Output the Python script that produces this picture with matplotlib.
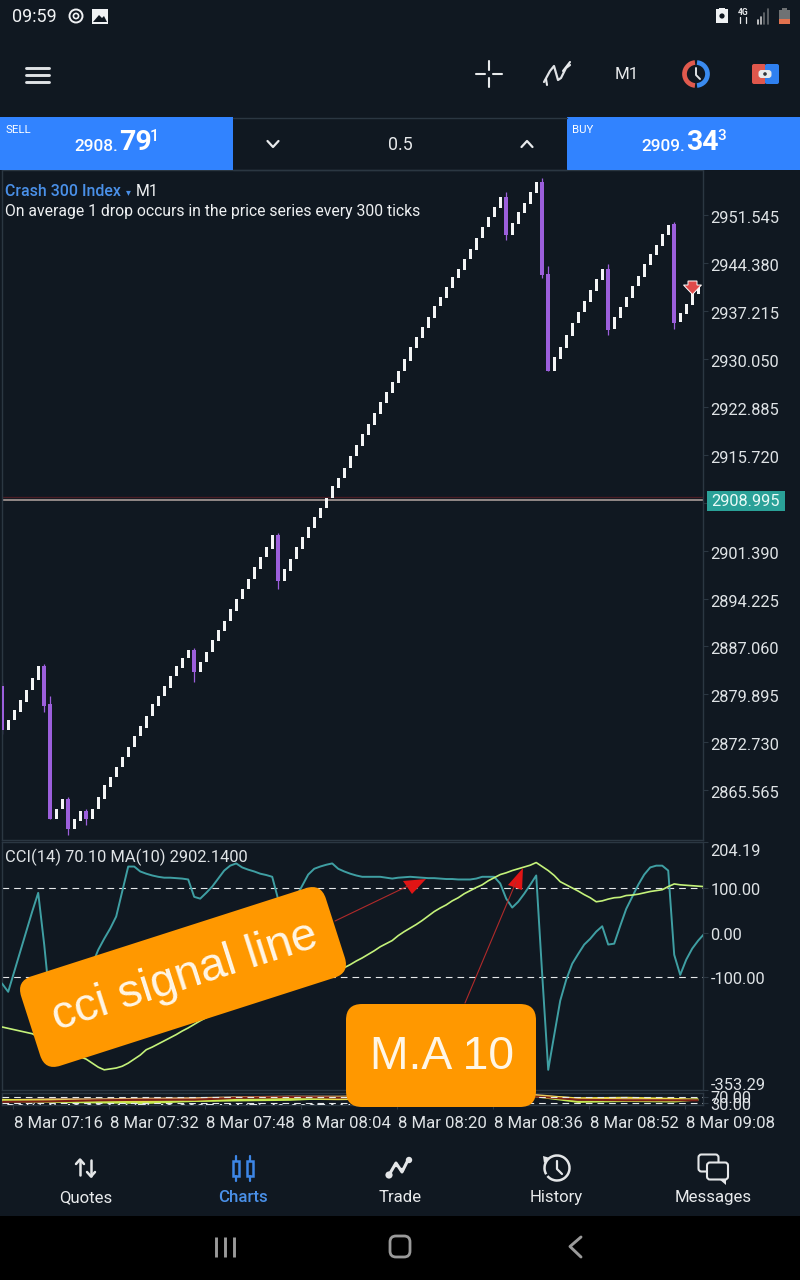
import numpy as np
import matplotlib
matplotlib.use("Agg")
import matplotlib.pyplot as plt
from matplotlib.patches import Rectangle, FancyBboxPatch, Polygon, Circle, Arc
from matplotlib.transforms import Affine2D, ScaledTranslation

plt.rcParams['font.family'] = ['Roboto', 'DejaVu Sans']

# ---------- data ----------
body_high = [
 2881.1,2876.1,2877.5,2879.0,2880.6,2882.3,2884.1,2884.1,2878.4,2862.8,
 2864.2,2864.3,2861.2,2862.5,2862.5,2862.8,2864.5,2866.3,2867.6,2869.1,
 2870.6,2872.1,2873.7,2875.1,2876.7,2878.4,2879.7,2881.1,2882.7,2884.1,
 2885.3,2886.6,2886.6,2884.8,2886.3,2888.0,2889.5,2890.9,2892.6,2894.2,
 2895.7,2897.2,2898.9,2900.5,2901.9,2903.7,2903.7,2898.6,2900.2,2901.9,
 2903.4,2904.9,2906.4,2907.7,2909.3,2911.0,2912.3,2913.8,2915.6,2917.1,
 2918.8,2920.3,2921.9,2923.6,2925.1,2926.6,2928.3,2930.0,2931.8,2933.3,
 2934.8,2936.3,2937.9,2939.3,2940.8,2942.3,2943.5,2945.0,2946.4,2948.1,
 2949.7,2951.2,2952.7,2954.2,2954.2,2950.3,2952.0,2953.3,2955.0,2956.5,
 2956.5,2942.7,2930.3,2931.8,2933.6,2935.4,2937.0,2938.7,2940.3,2942.0,
 2943.5,2943.5,2936.3,2937.8,2939.3,2940.9,2942.4,2944.2,2945.7,2947.0,
 2948.7,2950.0,2950.2,2936.9,2938.2,2939.9,2941.1]
body_low = [
 2874.5,2874.5,2876.0,2877.3,2878.8,2880.5,2882.1,2878.2,2861.2,2861.2,
 2862.7,2859.7,2859.7,2861.0,2861.3,2861.3,2862.7,2864.3,2866.1,2867.6,
 2869.0,2870.5,2872.1,2873.6,2874.9,2876.7,2878.2,2879.6,2880.9,2882.6,
 2883.9,2885.3,2883.2,2883.2,2884.8,2886.2,2887.8,2889.3,2890.8,2892.4,
 2894.1,2895.6,2897.1,2898.7,2900.4,2901.7,2896.9,2896.9,2898.4,2900.2,
 2901.7,2903.2,2904.7,2906.2,2907.7,2909.2,2910.8,2912.2,2913.8,2915.5,
 2917.0,2918.6,2920.1,2921.8,2923.4,2924.9,2926.4,2928.2,2929.8,2931.6,
 2933.1,2934.6,2936.1,2937.9,2939.1,2940.6,2942.1,2943.3,2945.0,2946.3,
 2948.1,2949.7,2951.2,2952.6,2948.5,2948.5,2950.2,2951.8,2953.2,2954.8,
 2942.6,2928.3,2928.3,2930.1,2931.6,2933.4,2935.4,2937.0,2938.5,2940.2,
 2941.8,2934.3,2934.5,2936.1,2937.8,2939.1,2940.9,2942.3,2944.1,2945.6,
 2946.9,2948.5,2935.4,2935.5,2936.7,2938.1,2939.7]
down_bars = [0, 7, 8, 11, 14, 32, 46, 84, 90, 91, 101, 112]
wick_high = [2881.7, 2884.5, 2879.7, 2864.6, 2862.8, 2886.8, 2904.0, 2955.0, 2957.1, 2943.9, 2944.2, 2950.5]
wick_low  = [2874.0, 2877.3, 2861.2, 2858.9, 2860.3, 2881.8, 2895.7, 2947.8, 2942.1, 2928.3, 2933.6, 2934.5]
price_ticks = [2951.545, 2944.380, 2937.215, 2930.050, 2922.885, 2915.720, 2908.555,
               2901.390, 2894.225, 2887.060, 2879.895, 2872.730, 2865.565]
bid_price = 2908.995
ask_price = 2909.343

cci = [-115,-133,-88,-43,2,47,89,-27,-162,-178,-173,-162,-146,-129,-102,-72,-39,
 -14,9,36,92,148,148,137,132,128,125,123,123,122,121,119,80,76,89,103,121,139,150,155,
 146,141,137,132,129,125,74,62,62,80,105,130,143,148,152,155,143,137,132,128,125,125,125,125,
 123,121,123,124,125,124,123,122,122,121,120,120,119,119,119,121,125,125,125,110,76,56,69,87,
 107,128,-95,-308,-230,-153,-106,-70,-48,-27,-14,2,14,-27,-25,15,53,80,107,130,146,150,150,139,
 -50,-95,-61,-36,-18,-3]
cci_ma = [-212,-215,-218,-221,-224,-227,-234,-241,-248,-254,-261,-268,-275,-279,-284,-293,-302,
 -308,-306,-304,-300,-293,-284,-275,-263,-257,-250,-243,-236,-229,-221,-214,-206,-198,-191,-185,
 -180,-175,-171,-164,-159,-153,-149,-143,-138,-132,-126,-121,-115,-109,-104,-98,-92,-88,-84,-81,
 -80,-79,-72,-64,-57,-49,-41,-32,-25,-18,-7,2,10,18,27,37,47,55,62,71,78,87,94,101,107,116,123,130,
 134,139,143,147,151,157,148,139,128,114,107,100,93,85,78,69,71,75,78,79,83,84,86,89,92,94,96,103,
 109,107,106,105,104,103]
cci_levels = [100, -100]
cci_ticks = [204.19, 100, 0, -100, -353.29]

osc_bars = [0,8,16,24,32,40,48,56,64,72,80,88,96,104,112,116]
osc_lime = [45,38,34,30,45,49,53,68,72,75,75,83,38,45,41,56]
osc_yellow = [53,49,45,41,45,53,60,56,60,68,75,83,64,68,60,53]
osc_red = [38,41,49,53,53,68,72,68,75,72,64,79,53,49,49,49]
osc_tan = [49,56,56,60,64,71,75,75,79,75,72,90,60,56,53,53]
osc_levels = [70, 30]

time_ticks = [1.8, 17.8, 33.8, 49.8, 65.8, 81.8, 97.8, 113.8]
time_labels = ['8 Mar 07:16','8 Mar 07:32','8 Mar 07:48','8 Mar 08:04',
               '8 Mar 08:20','8 Mar 08:36','8 Mar 08:52','8 Mar 09:08']
nav_labels = ['Quotes','Charts','Trade','History','Messages']

# ---------- style ----------
BG = '#101821'
LINE = '#2b3742'
TXT = '#dfe3e6'
BLUE = '#3183ff'
PURPLE = '#9c5fdc'
TEAL = '#3f9fa3'
LIME = '#c4f27a'
ORANGE = '#ff9800'

fig = plt.figure(figsize=(8, 12.8), dpi=100, facecolor=BG)

def axpx(l, t, r, b):
    a = fig.add_axes([l/800, 1-b/1280, (r-l)/800, (b-t)/1280], facecolor=BG)
    a.set_xlim(-0.117, 116.88)
    for s in a.spines.values():
        s.set_color(LINE); s.set_linewidth(1)
    a.set_xticks([])
    a.yaxis.tick_right()
    a.tick_params(axis='y', colors=LINE, length=3.6, width=0.8, pad=1.4, labelsize=11.8, labelcolor=TXT)
    return a

def shift_labels(a, offsets):
    for lab, off in zip(a.get_yticklabels(), offsets):
        lab.set_transform(lab.get_transform() + ScaledTranslation(0, -off/100, fig.dpi_scale_trans))

# ---------- price panel ----------
ax = axpx(1.5, 170, 703.5, 839.5)
ax.set_ylim(2858.2, 2958.28)
idx = np.arange(len(body_high))
high = np.array(body_high); low = np.array(body_low)
cols = ['#f4f5f6'] * len(idx)
widths = [0.54] * len(idx)
for d in down_bars:
    cols[d] = PURPLE
    widths[d] = 0.62
ax.bar(idx, high - low, bottom=low, width=widths, color=cols, linewidth=0, zorder=3)
ax.vlines(down_bars, wick_low, wick_high, color=PURPLE, linewidth=0.9, zorder=2)
ax.axhline(ask_price, color='#4a1c24', lw=0.9, zorder=1)
ax.axhline(bid_price, color='#a89c98', lw=1.2, zorder=1)
ax.set_yticks(price_ticks)
# the 2908.555 label lies under the current-price tag in the reference
ax.set_yticklabels(['' if abs(v - 2908.555) < 1e-6 else f'{v:.3f}' for v in price_ticks])
shift_labels(ax, [2]*len(price_ticks))

# ---------- CCI panel ----------
ax2 = axpx(1.5, 841.5, 703.5, 1090)
ax2.set_ylim(-353.29, 204.19)
ax2.plot(np.arange(len(cci)), cci, color=TEAL, lw=1.4, zorder=3)
ax2.plot(np.arange(len(cci_ma)), cci_ma, color=LIME, lw=1.2, zorder=4)
for v in cci_levels:
    ax2.axhline(v, color='#e6e8ea', lw=0.8, dashes=(6, 4.5), zorder=2)
ax2.set_yticks(cci_ticks)
ax2.set_yticklabels(['204.19', '100.00', '0.00', '-100.00', '-353.29'])
shift_labels(ax2, [9, 1, 1, 1, -6])

# ---------- oscillator strip ----------
ax3 = axpx(1.5, 1092.5, 703.5, 1105)
ax3.set_ylim(15, 105)
for series, c, lw in ((osc_tan, '#e0b070', 1.5), (osc_yellow, '#eadb45', 1.3),
                      (osc_lime, '#c6ea52', 1.6), (osc_red, '#7d2016', 1.5)):
    ax3.plot(osc_bars, series, color=c, lw=lw, solid_capstyle='butt', zorder=3)
for v in osc_levels:
    ax3.axhline(v, color='#e6e8ea', lw=0.8, dashes=(6, 4.5), zorder=4)
ax3.set_yticks(osc_levels)
ax3.set_yticklabels(['70.00', '30.00'])
shift_labels(ax3, [0, 1])
ax3.text(0.006, 0.18, 'RSI(14) 48.92 MA(7) 49.0027 MA(7) 49.0027 MA', transform=ax3.transAxes,
         color=TXT, fontsize=11.6, va='top', ha='left', clip_on=True, zorder=5)
ax3.set_xticks(time_ticks)
ax3.set_xticklabels(time_labels, ha='left')
ax3.tick_params(axis='x', colors=LINE, length=3, width=0.8, pad=5, labelsize=12.1, labelcolor=TXT)
for lab in ax3.get_xticklabels():
    lab.set_transform(lab.get_transform() + ScaledTranslation(0.8/100, 0, fig.dpi_scale_trans))

# ---------- overlay in pixel coordinates ----------
ov = fig.add_axes([0, 0, 1, 1], facecolor='none', zorder=10)
ov.set_xlim(0, 800); ov.set_ylim(1280, 0); ov.axis('off')

def T(x, y, s, size=11.3, color=TXT, ha='left', va='center', **kw):
    return ov.text(x, y + 0.8, s, fontsize=size, color=color, ha=ha, va=va, **kw)
def L(xs, ys, color='#e8eaec', lw=1.6, **kw):
    ov.plot(xs, ys, color=color, lw=lw, solid_capstyle=kw.pop('cap', 'round'), **kw)
def R(x, y, w, h, color, **kw):
    ov.add_patch(Rectangle((x, y), w, h, facecolor=color, edgecolor='none', **kw))
def RR(x, y, w, h, r, color, **kw):
    ov.add_patch(FancyBboxPatch((x+r, y+r), w-2*r, h-2*r, boxstyle=f'round,pad={r},rounding_size={r}',
                                facecolor=color, edgecolor=kw.pop('edge', 'none'), lw=kw.pop('lw', 0), **kw))

# price tag
R(707, 491, 78, 19.5, '#2aa198')
T(746, 500.5, '2908.995', color='#eafaf7', ha='center', size=11.8)

# legend texts on chart
T(5, 191, 'Crash 300 Index', color='#4a90e8', size=11.4, fontweight='medium')
T(126, 191, '▾', color='#4a90e8', size=7, family=['DejaVu Sans'])
T(136, 191, 'M1', color='#eef0f2', size=11.4)
T(5, 211, 'On average 1 drop occurs in the price series every 300 ticks', color='#eef0f2', size=11.35)
T(5, 857, 'CCI(14) 70.10 MA(10) 2902.1400', color=TXT, size=11.9)

# cursor arrow on last bar
ov.add_patch(Polygon([(688, 281), (697, 281), (697, 285), (701.5, 285), (692.5, 294.5), (683.5, 285), (688, 285)],
                     closed=True, facecolor='#e04a4a', edgecolor='white', lw=0.7))

# status bar
T(12, 16, '09:59', size=13, color='#f0f2f4')
ov.add_patch(Circle((76, 16), 6.5, fill=False, ec='#f0f2f4', lw=1.4))
ov.add_patch(Circle((76, 16), 2.6, fill=False, ec='#f0f2f4', lw=1.2))
R(92, 9, 16, 15, '#f0f2f4')
ov.add_patch(Polygon([(93, 22), (99, 15), (102, 18), (104, 16), (107, 22)], closed=True, facecolor=BG))
R(716, 9, 12, 14, '#f0f2f4'); R(719, 7.5, 6, 2, '#f0f2f4')
ov.add_patch(Circle((722, 16), 2.6, fc=BG, ec='none'))
T(743, 12, '4G', size=6.2, color='#e4e6e8', ha='center', fontweight='bold')
L([740, 740], [17, 23], lw=0.9); L([746, 746], [17, 23], lw=0.9)
for xb, top, c in [(758, 20, '#e0e0e0'), (761, 17, '#c8c8c8'), (764, 13, '#666a6e'), (768, 9, '#666a6e')]:
    L([xb, xb], [top, 23.5], color=c, lw=1.2)
R(779, 10, 11, 13, '#6f7274'); R(782, 7.5, 5, 2.5, '#6f7274'); R(779, 19, 11, 4.5, '#e3724e')

# toolbar
for y0 in (68, 75, 82):
    L([25.5, 48.5], [y0, y0], lw=2.1, color='#dfe2e5')
L([476, 485], [74, 74], lw=1.5); L([493, 502], [74, 74], lw=1.5)
L([489, 489], [61, 70], lw=1.5); L([489, 489], [78, 87], lw=1.5)
L([544, 550, 554, 558, 561, 566, 570], [82, 71, 66, 80, 78, 68, 65], lw=1.6, color='#dfe2e5')
L([547, 546], [85, 79], lw=1.5); L([563, 570], [71, 62], lw=1.5)
T(626.5, 74, 'M1', size=12.2, color='#e6e8ea', ha='center')
ov.add_patch(Arc((696, 74), 23, 23, theta1=95, theta2=265, color='#e05a4e', lw=3.4))
ov.add_patch(Arc((696, 74), 23, 23, theta1=-85, theta2=85, color='#3a8bf0', lw=3.4))
L([696, 696, 700], [68, 75, 79], color='#dfe2e5', lw=1.4)
RR(752, 64, 14, 20, 2, '#e0574c'); RR(765, 64, 14, 20, 2, '#2f80f0')
RR(758.5, 70, 13, 8, 3, '#e8eaec')
ov.add_patch(Circle((765, 74), 1.8, fc='#30343a', ec='none'))

# sell / buy row
R(0, 117, 233, 53, BLUE); R(567, 117, 233, 53, BLUE)
L([233, 567], [117.5, 117.5], color=LINE, lw=1)
L([233, 567], [169.5, 169.5], color=LINE, lw=1)
T(5, 129, 'SELL', size=8.2, color='white')
T(572, 129, 'BUY', size=8.2, color='white')
T(118.5, 145.5, '2908.', size=12.4, color='white', ha='right', fontweight='medium')
T(119, 142, '79', size=20.5, color='white', fontweight='bold')
T(150, 135.5, '1', size=11.5, color='white', fontweight='medium')
T(685.5, 145.5, '2909.', size=12.4, color='white', ha='right', fontweight='medium')
T(686, 142, '34', size=20.5, color='white', fontweight='bold')
T(717.5, 135.5, '3', size=11, color='white', fontweight='medium')
T(400, 144, '0.5', size=12.8, color='#e6e8ea', ha='center')
L([267.5, 273, 278.5], [141, 147, 141], lw=1.6)
L([521.5, 527, 532.5], [147, 141, 147], lw=1.6)

# navigation
for xc, s, c in zip((85.5, 243, 400.5, 556, 713), nav_labels,
                    ('#e8eaec', '#4a90e8', '#e8eaec', '#e8eaec', '#e8eaec')):
    T(xc, 1197, s, size=12.1, color=c, ha='center', fontweight='medium' if s == 'Charts' else 'normal')
W = '#e4e6e8'
L([80, 80], [1160, 1175], color=W, lw=1.8); L([76, 80, 84], [1164, 1159.5, 1164], color=W, lw=1.8)
L([91, 91], [1160, 1176], color=W, lw=1.8); L([87, 91, 95], [1172, 1176.5, 1172], color=W, lw=1.8)
BL = '#3d86e6'
for xc in (236, 250):
    ov.add_patch(Rectangle((xc-3, 1161), 6, 15, fill=False, ec=BL, lw=1.8))
    L([xc, xc], [1156, 1161], color=BL, lw=1.6); L([xc, xc], [1176, 1181], color=BL, lw=1.6)
L([389, 396, 402, 408], [1175, 1163, 1172, 1160], color=W, lw=2.2)
for (px, py, r) in ((389, 1175, 3.6), (396, 1165, 2.2), (402, 1170, 2.2), (409, 1160, 3.2)):
    ov.add_patch(Circle((px, py), r, fc=W, ec='none'))
ov.add_patch(Arc((557, 1168), 25, 25, theta1=-210, theta2=140, color=W, lw=1.8))
ov.add_patch(Polygon([(543, 1156), (550, 1158), (544, 1163)], closed=True, fc=W, ec='none'))
L([557, 557, 562], [1161, 1169, 1174], color=W, lw=1.6)
RR(698.5, 1154.5, 20, 17, 3, BG, edge=W, lw=1.5)
RR(707, 1162.5, 21, 17, 3, BG, edge=W, lw=1.5)
ov.add_patch(Polygon([(719, 1179), (726, 1179), (726, 1185)], closed=True, fc=W, ec='none'))

# system bar
R(0, 1216, 800, 64, '#000000')
G = '#9a9a9a'
for x0 in (216, 225, 234):
    L([x0, x0], [1236.5, 1256.5], color=G, lw=2.1, cap='butt')
RR(390, 1236, 20, 21, 6, '#000000', edge=G, lw=2)
L([581, 570, 581], [1237, 1246.5, 1257], color=G, lw=2.1)

# annotations: arrows
L([335, 410], [921, 885], color='#b02a2a', lw=0.8)
L([465, 516], [1003, 882], color='#b02a2a', lw=0.8)
ov.add_patch(Polygon([(403, 881), (426, 879), (412, 894)], closed=True, fc='#e01515', ec='none'))
ov.add_patch(Polygon([(523, 868), (508, 885), (522, 890)], closed=True, fc='#e01515', ec='none'))

# annotations: orange boxes
cx, cy, bw, bh = 183, 977, 320, 94
rot = Affine2D().rotate_deg_around(cx, cy, -17.8)
b1 = FancyBboxPatch((cx-bw/2+16, cy-bh/2+16), bw-32, bh-32, boxstyle='round,pad=16,rounding_size=16',
                    facecolor=ORANGE, edgecolor='none', transform=rot + ov.transData, zorder=6)
ov.add_patch(b1)
ov.text(185, 977, 'cci signal line', fontsize=33.5, color='#fff6e6', family=['Liberation Sans'],
        rotation=17.8, rotation_mode='anchor', ha='center', va='center', zorder=7)
b2 = FancyBboxPatch((346+16, 1004+16), 190-32, 103-32, boxstyle='round,pad=16,rounding_size=16',
                    facecolor=ORANGE, edgecolor='none', zorder=6)
ov.add_patch(b2)
ov.text(441.5, 1057, 'M.A 10', fontsize=33.4, color='#fff6e6', family=['Liberation Sans'],
        ha='center', va='center', zorder=7)

fig.savefig('out.png', dpi=100, facecolor=BG)
